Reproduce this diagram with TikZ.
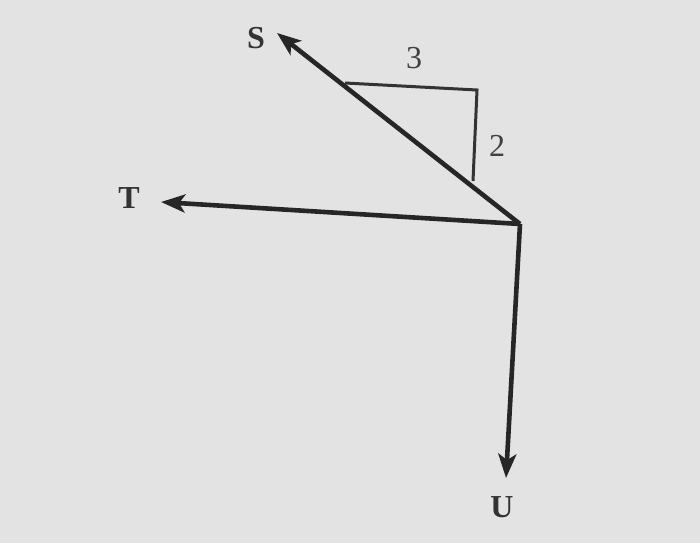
\documentclass[tikz,border=0pt]{standalone}
\usepackage{fontspec}
\setmainfont{Liberation Serif}
\usetikzlibrary{arrows.meta}
\begin{document}
\begin{tikzpicture}[x=1pt,y=-1pt,
  vec/.style={line width=4.6pt,draw=black!85,-{Stealth[length=24pt,width=18pt,inset=6pt]}},
  tri/.style={line width=3pt,draw=black!80},
  lab/.style={font=\fontsize{32}{34}\selectfont\bfseries,text=black!80,inner sep=0pt},
  num/.style={font=\fontsize{32}{34}\selectfont,text=black!75,inner sep=0pt}]
\fill[black!11] (0,0) rectangle (700,543);
\useasboundingbox (0,0) rectangle (700,543);
\coordinate (O) at (520,224);
\coordinate (Stip) at (277,33);
\coordinate (Ttip) at (161,202);
\coordinate (Utip) at (506,478);
\coordinate (A) at (345,83);
\coordinate (B) at (477,90);
\coordinate (C) at (473,181);
\draw[tri] (A) -- (B) -- (C);
\draw[vec] (O) -- (Stip);
\draw[vec] (O) -- (Ttip);
\draw[vec] (O) -- (Utip);
\node[lab] (S) at (256,38) {S};
\node[lab] (T) at (129,198) {T};
\node[lab] (U) at (502,507) {U};
\node[num] (n3) at (414,58) {3};
\node[num] (n2) at (497,146) {2};
\end{tikzpicture}
\end{document}
